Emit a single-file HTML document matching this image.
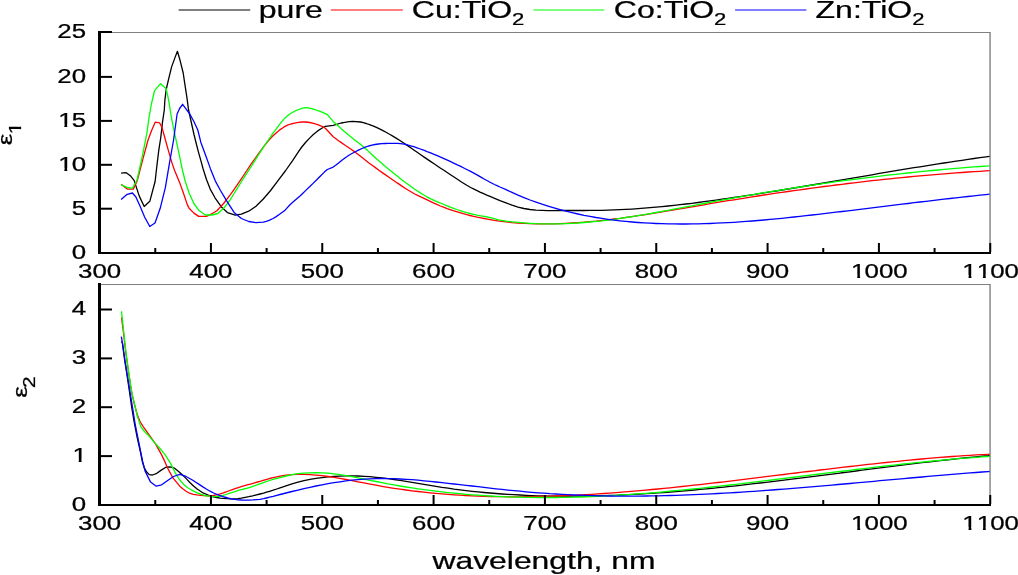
<!DOCTYPE html>
<html><head><meta charset="utf-8"><title>Dielectric function</title>
<style>html,body{margin:0;padding:0;background:#fff;overflow:hidden}svg{display:block}</style>
</head><body>
<svg width="1018" height="575" viewBox="0 0 1018 575">
<rect width="1018" height="575" fill="#fff"/>
<g font-family="Liberation Sans, Arial, sans-serif" fill="#000">
<line x1="100" y1="32.5" x2="990" y2="32.5" stroke="#808080" stroke-width="1"/>
<rect x="989.4" y="32.0" width="1.3" height="221.0" fill="#7a7a7a"/>
<line x1="100" y1="284.5" x2="990" y2="284.5" stroke="#808080" stroke-width="1"/>
<rect x="989.4" y="284.0" width="1.3" height="221.0" fill="#7a7a7a"/>
<polyline points="121.1,173.2 126.2,172.7 130.7,176.1 134.1,180.4 139.3,196.1 144.2,206.5 149.8,201.3 155.1,181.5 157.0,164.8 158.8,150.2 160.7,138.0 162.5,122.2 164.3,110.0 164.9,99.8 166.2,89.5 168.6,79.1 171.6,66.9 174.7,58.4 177.4,51.3 180.2,60.8 183.2,73.0 185.0,85.2 186.9,97.4 188.5,109.5 191.1,121.5 194.0,134.5 196.6,145.0 198.4,151.9 200.8,160.4 203.0,168.5 206.4,179.3 210.2,189.1 215.0,197.8 221.7,207.3 227.4,212.6 235.3,215.1 241.4,214.2 248.7,211.2 256.0,206.3 263.3,199.0 270.6,190.5 278.0,180.7 285.3,171.0 292.6,160.6 295.4,156.3 298.5,151.6 301.8,147.0 305.5,142.5 309.6,138.1 313.6,134.2 317.7,130.9 321.8,128.2 325.4,126.3 333.2,125.4 341.1,123.0 344.9,122.3 349.1,121.7 352.9,121.4 360.7,122.0 363.3,122.7 366.2,123.5 369.5,124.6 372.9,125.8 376.4,127.3 379.5,128.8 383.0,130.6 386.5,132.5 390.0,134.5 393.2,136.4 396.1,138.1 400.3,140.7 403.7,143.0 407.9,145.9 410.7,147.8 413.9,150.0 417.2,152.3 420.7,154.7 424.1,157.1 427.5,159.4 430.8,161.6 434.1,163.8 437.3,166.0 440.6,168.2 443.9,170.3 447.2,172.5 450.5,174.7 454.0,177.0 457.4,179.3 460.7,181.5 463.9,183.5 466.8,185.3 470.6,187.5 474.0,189.2 477.1,190.7 480.0,192.1 483.6,193.7 486.8,195.1 490.0,196.4 493.5,197.9 497.0,199.3 500.0,200.6 506.0,202.9 512.0,205.1 518.0,207.1 524.0,208.5 530.0,209.5 536.0,210.1 542.0,210.4 548.0,210.6 554.0,210.6 560.0,210.5 566.0,210.5 572.0,210.5 578.0,210.5 584.0,210.5 590.0,210.4 596.0,210.4 602.0,210.3 608.0,210.1 614.0,209.9 620.0,209.7 626.0,209.4 632.0,209.1 638.0,208.7 644.0,208.2 650.0,207.7 656.0,207.2 662.0,206.6 668.0,206.0 674.0,205.4 680.0,204.7 686.0,204.0 692.0,203.3 698.0,202.5 704.0,201.7 710.0,200.9 716.0,200.1 722.0,199.2 728.0,198.4 734.0,197.5 740.0,196.6 746.0,195.7 752.0,194.8 758.0,193.8 764.0,192.9 770.0,191.9 776.0,191.0 782.0,190.0 788.0,189.0 794.0,188.0 800.0,187.0 806.0,186.0 812.0,185.0 818.0,184.0 824.0,183.0 830.0,181.9 836.0,180.9 842.0,179.9 848.0,178.9 854.0,177.8 860.0,176.8 866.0,175.8 872.0,174.8 878.0,173.7 884.0,172.7 890.0,171.7 896.0,170.7 902.0,169.7 908.0,168.7 914.0,167.7 920.0,166.8 926.0,165.8 932.0,164.9 938.0,163.9 944.0,163.0 950.0,162.1 956.0,161.2 962.0,160.3 968.0,159.4 974.0,158.5 980.0,157.7 986.0,156.9 989.6,156.4" fill="none" stroke="#000" stroke-width="1.3" stroke-linejoin="round"/>
<polyline points="121.1,184.3 127.2,189.1 133.3,189.1 137.2,180.8 143.0,158.7 147.9,140.5 151.5,130.7 155.2,122.2 159.5,122.8 161.9,127.1 164.9,138.0 168.6,151.4 172.2,163.6 174.6,170.5 179.6,182.4 183.4,193.0 187.2,204.4 189.1,208.3 193.9,213.1 198.7,216.4 206.4,216.4 211.1,214.2 216.9,210.7 223.6,203.5 230.0,195.2 233.1,190.8 236.7,185.7 240.3,180.4 243.9,175.0 247.5,169.5 250.9,164.4 255.4,158.0 259.6,152.2 263.9,146.3 268.3,140.9 272.5,136.3 277.0,132.2 280.2,129.6 283.7,127.2 287.5,125.2 290.9,124.0 294.6,123.1 298.3,122.4 301.8,122.0 305.9,122.0 309.8,122.5 313.6,123.4 317.7,124.6 321.8,126.3 325.4,128.3 333.2,136.8 335.6,138.6 338.5,140.7 341.7,142.9 345.1,145.2 348.5,147.5 351.8,149.8 354.8,151.9 358.6,154.7 362.1,157.5 365.5,160.2 368.9,162.9 372.5,165.6 375.7,167.9 378.9,170.3 382.2,172.6 385.6,174.9 388.9,177.2 392.2,179.5 395.4,181.7 398.7,183.9 401.9,186.1 405.1,188.2 408.4,190.3 411.8,192.3 414.8,194.0 418.1,195.6 421.3,197.2 424.6,198.7 427.7,200.2 430.7,201.6 433.4,202.8 437.3,204.6 440.4,206.0 443.5,207.2 447.2,208.6 450.1,209.6 453.2,210.7 456.4,211.7 459.8,212.7 463.3,213.7 466.8,214.7 470.0,215.5 473.6,216.3 477.2,217.1 480.8,217.8 484.2,218.5 487.3,219.1 490.0,219.6 494.5,220.4 497.5,220.8 500.0,221.1 506.0,221.9 512.0,222.6 518.0,223.1 524.0,223.4 530.0,223.6 536.0,223.8 542.0,223.9 548.0,223.9 554.0,223.8 560.0,223.6 566.0,223.3 572.0,223.0 578.0,222.6 584.0,222.2 590.0,221.6 596.0,221.1 602.0,220.4 608.0,219.8 614.0,219.0 620.0,218.3 626.0,217.4 632.0,216.6 638.0,215.7 644.0,214.8 650.0,213.9 656.0,212.9 662.0,211.9 668.0,210.9 674.0,209.9 680.0,208.9 686.0,207.8 692.0,206.8 698.0,205.8 704.0,204.8 710.0,203.7 716.0,202.7 722.0,201.7 728.0,200.7 734.0,199.8 740.0,198.8 746.0,197.8 752.0,196.9 758.0,196.0 764.0,195.0 770.0,194.1 776.0,193.2 782.0,192.4 788.0,191.5 794.0,190.6 800.0,189.8 806.0,189.0 812.0,188.1 818.0,187.3 824.0,186.5 830.0,185.8 836.0,185.0 842.0,184.3 848.0,183.5 854.0,182.8 860.0,182.1 866.0,181.4 872.0,180.7 878.0,180.1 884.0,179.4 890.0,178.8 896.0,178.2 902.0,177.6 908.0,177.0 914.0,176.4 920.0,175.9 926.0,175.3 932.0,174.8 938.0,174.3 944.0,173.8 950.0,173.4 956.0,172.9 962.0,172.5 968.0,172.0 974.0,171.6 980.0,171.3 986.0,170.9 989.6,170.7" fill="none" stroke="#f00" stroke-width="1.3" stroke-linejoin="round"/>
<polyline points="121.1,184.8 127.2,187.4 132.4,188.3 137.0,180.0 141.8,158.7 146.7,134.4 149.1,117.0 151.5,103.5 154.6,90.7 160.6,83.7 166.2,88.8 168.6,99.8 171.0,115.0 173.5,128.3 178.3,150.2 182.4,170.0 185.3,181.5 189.1,193.0 193.9,203.5 198.7,210.2 205.4,215.0 212.1,215.0 217.8,213.5 223.6,208.3 230.0,200.1 234.1,193.5 237.0,188.8 240.6,183.0 243.8,177.8 250.9,167.0 255.2,160.2 259.6,153.1 263.9,146.4 268.3,140.0 272.5,133.9 277.0,127.9 280.2,123.7 283.7,119.4 287.5,115.7 290.9,113.3 294.7,111.2 298.5,109.5 301.8,108.3 305.2,107.7 308.1,107.9 311.6,108.7 314.5,109.5 317.9,110.6 321.4,111.9 324.7,113.3 327.3,114.6 333.2,121.4 335.7,123.7 338.8,126.5 342.1,129.4 345.6,132.4 348.9,135.2 352.0,137.7 355.0,140.2 358.1,142.6 361.3,145.1 364.7,148.0 367.7,150.6 370.8,153.5 374.0,156.4 377.3,159.5 380.8,162.5 384.3,165.6 387.5,168.3 390.9,171.0 394.3,173.8 397.9,176.6 401.3,179.4 404.7,181.9 407.9,184.3 411.4,186.8 414.7,189.2 417.9,191.3 421.1,193.4 424.3,195.3 427.5,197.1 430.8,198.8 434.1,200.4 437.3,201.8 440.6,203.2 443.9,204.5 447.2,205.8 450.4,207.1 453.6,208.3 456.8,209.5 460.0,210.6 463.3,211.7 466.8,212.7 470.0,213.5 473.6,214.3 477.2,215.1 480.8,215.8 484.2,216.4 487.3,217.0 490.0,217.6 494.5,218.7 497.5,219.6 500.0,220.2 506.0,221.2 512.0,221.8 518.0,222.4 524.0,222.9 530.0,223.3 536.0,223.7 542.0,223.8 548.0,223.9 554.0,223.9 560.0,223.8 566.0,223.6 572.0,223.3 578.0,223.0 584.0,222.5 590.0,222.0 596.0,221.4 602.0,220.8 608.0,220.0 614.0,219.3 620.0,218.4 626.0,217.5 632.0,216.6 638.0,215.6 644.0,214.6 650.0,213.6 656.0,212.5 662.0,211.4 668.0,210.3 674.0,209.2 680.0,208.1 686.0,206.9 692.0,205.8 698.0,204.6 704.0,203.5 710.0,202.3 716.0,201.2 722.0,200.1 728.0,199.0 734.0,197.9 740.0,196.9 746.0,195.8 752.0,194.8 758.0,193.7 764.0,192.7 770.0,191.7 776.0,190.8 782.0,189.8 788.0,188.8 794.0,187.9 800.0,187.0 806.0,186.1 812.0,185.2 818.0,184.3 824.0,183.4 830.0,182.6 836.0,181.7 842.0,180.9 848.0,180.1 854.0,179.3 860.0,178.6 866.0,177.8 872.0,177.1 878.0,176.3 884.0,175.6 890.0,174.9 896.0,174.3 902.0,173.6 908.0,173.0 914.0,172.3 920.0,171.7 926.0,171.1 932.0,170.5 938.0,170.0 944.0,169.4 950.0,168.9 956.0,168.4 962.0,167.9 968.0,167.4 974.0,166.9 980.0,166.5 986.0,166.1 989.6,165.8" fill="none" stroke="#0f0" stroke-width="1.3" stroke-linejoin="round"/>
<polyline points="121.1,199.6 127.2,194.3 132.4,193.0 135.9,197.0 140.2,206.5 144.6,217.0 149.8,226.5 155.0,223.0 160.2,208.3 165.4,187.4 169.8,161.2 173.5,140.5 177.1,114.0 179.6,108.5 182.6,104.3 185.6,108.3 189.8,114.0 194.0,121.8 197.8,130.0 200.8,142.2 205.7,155.5 210.5,168.9 215.4,181.1 220.5,190.5 226.5,200.6 234.1,212.4 241.4,218.5 248.7,221.5 256.0,222.7 263.3,222.1 266.3,221.3 269.6,220.2 273.1,218.5 276.2,216.6 279.5,214.3 282.7,211.9 285.3,209.9 290.0,204.8 293.0,202.1 296.5,199.0 300.0,195.9 302.9,193.2 305.8,190.4 309.6,186.8 312.8,183.6 316.7,179.8 320.7,175.7 324.4,172.1 327.3,169.5 333.2,167.1 335.6,165.3 338.6,162.9 341.9,160.3 345.3,157.7 348.9,155.3 352.0,153.5 355.2,151.8 358.5,150.1 361.9,148.5 365.3,147.1 368.6,146.0 371.9,145.1 375.1,144.5 378.4,144.0 381.7,143.7 384.9,143.5 388.2,143.4 391.4,143.3 394.4,143.3 397.4,143.4 400.6,143.6 404.1,144.2 407.9,145.0 410.7,145.8 413.8,146.7 417.0,147.8 420.3,149.0 423.7,150.2 427.1,151.6 430.6,152.9 434.0,154.3 437.3,155.7 440.6,157.1 444.0,158.6 447.4,160.1 450.7,161.7 454.1,163.3 457.4,164.9 460.7,166.4 463.8,168.0 466.8,169.5 470.6,171.4 474.3,173.4 477.9,175.4 481.3,177.4 484.5,179.2 487.4,180.8 490.0,182.2 494.5,184.5 497.5,185.8 500.0,187.0 506.0,189.7 512.0,192.4 518.0,195.2 524.0,197.6 530.0,200.0 536.0,202.1 542.0,204.2 548.0,206.1 554.0,207.9 560.0,209.6 566.0,211.2 572.0,212.6 578.0,214.0 584.0,215.3 590.0,216.4 596.0,217.5 602.0,218.4 608.0,219.3 614.0,220.1 620.0,220.8 626.0,221.4 632.0,222.0 638.0,222.5 644.0,222.9 650.0,223.2 656.0,223.5 662.0,223.7 668.0,223.8 674.0,223.9 680.0,224.0 686.0,224.0 692.0,223.9 698.0,223.8 704.0,223.7 710.0,223.5 716.0,223.2 722.0,222.9 728.0,222.6 734.0,222.3 740.0,221.9 746.0,221.4 752.0,221.0 758.0,220.5 764.0,220.0 770.0,219.4 776.0,218.9 782.0,218.3 788.0,217.6 794.0,217.0 800.0,216.4 806.0,215.7 812.0,215.0 818.0,214.3 824.0,213.6 830.0,212.9 836.0,212.2 842.0,211.5 848.0,210.8 854.0,210.1 860.0,209.3 866.0,208.6 872.0,207.9 878.0,207.1 884.0,206.4 890.0,205.7 896.0,204.9 902.0,204.2 908.0,203.5 914.0,202.7 920.0,202.0 926.0,201.3 932.0,200.6 938.0,199.9 944.0,199.2 950.0,198.5 956.0,197.8 962.0,197.2 968.0,196.5 974.0,195.8 980.0,195.2 986.0,194.6 989.6,194.2" fill="none" stroke="#00f" stroke-width="1.3" stroke-linejoin="round"/>
<polyline points="121.3,341.5 122.3,342.5 124.7,360.4 127.2,376.2 129.6,392.5 131.7,407.2 134.1,421.7 137.2,437.6 140.2,450.9 142.6,462.5 144.2,467.5 146.5,471.8 149.2,474.6 152.5,475.0 156.2,473.7 160.5,470.6 165.9,467.2 170.0,466.8 174.3,468.1 178.0,471.0 182.6,475.1 186.2,478.6 190.1,482.7 193.8,486.2 197.2,489.0 200.5,491.3 203.5,493.2 210.5,496.0 213.4,496.8 216.6,497.5 220.2,498.1 223.4,498.4 227.1,498.7 230.7,498.8 234.1,498.8 237.9,498.6 241.3,498.1 245.2,497.4 248.8,496.7 252.7,495.8 256.6,494.8 260.0,494.0 263.6,493.1 266.5,492.2 269.6,491.3 273.2,490.2 276.8,489.0 280.0,487.9 286.0,485.8 292.0,483.8 298.0,482.1 304.0,480.7 310.0,479.4 316.0,478.4 322.0,477.6 328.0,476.9 334.0,476.4 340.0,476.1 346.0,475.9 352.0,475.9 358.0,476.0 364.0,476.3 370.0,476.7 376.0,477.3 382.0,477.9 388.0,478.7 394.0,479.5 400.0,480.4 406.0,481.4 412.0,482.4 418.0,483.4 424.0,484.4 430.0,485.4 436.0,486.4 442.0,487.4 448.0,488.2 454.0,489.1 460.0,489.8 466.0,490.6 472.0,491.3 478.0,491.9 484.0,492.5 490.0,493.0 496.0,493.5 502.0,494.0 508.0,494.4 514.0,494.7 520.0,495.0 526.0,495.3 532.0,495.6 538.0,495.8 544.0,495.9 550.0,496.1 556.0,496.2 562.0,496.2 568.0,496.2 574.0,496.2 580.0,496.2 586.0,496.1 592.0,496.0 598.0,495.9 604.0,495.7 610.0,495.5 616.0,495.3 622.0,495.0 628.0,494.7 634.0,494.4 640.0,494.1 646.0,493.7 652.0,493.3 658.0,492.9 664.0,492.5 670.0,492.0 676.0,491.6 682.0,491.1 688.0,490.5 694.0,490.0 700.0,489.4 706.0,488.9 712.0,488.3 718.0,487.7 724.0,487.1 730.0,486.4 736.0,485.8 742.0,485.1 748.0,484.4 754.0,483.7 760.0,483.0 766.0,482.3 772.0,481.6 778.0,480.9 784.0,480.2 790.0,479.4 796.0,478.7 802.0,477.9 808.0,477.2 814.0,476.4 820.0,475.6 826.0,474.8 832.0,474.1 838.0,473.3 844.0,472.5 850.0,471.8 856.0,471.0 862.0,470.2 868.0,469.4 874.0,468.7 880.0,467.9 886.0,467.1 892.0,466.4 898.0,465.6 904.0,464.9 910.0,464.2 916.0,463.4 922.0,462.7 928.0,462.0 934.0,461.3 940.0,460.6 946.0,460.0 952.0,459.3 958.0,458.7 964.0,458.0 970.0,457.4 976.0,456.8 982.0,456.2 988.0,455.7 989.6,455.5" fill="none" stroke="#000" stroke-width="1.3" stroke-linejoin="round"/>
<polyline points="121.5,317.4 123.3,331.0 125.7,352.0 128.2,370.0 130.6,386.0 132.2,395.0 134.6,405.0 137.2,414.5 140.0,421.5 143.2,426.6 149.3,435.1 155.4,443.6 161.5,454.6 165.0,461.9 167.3,467.5 172.9,477.9 179.8,486.2 182.8,488.8 186.1,491.3 189.6,493.2 193.3,494.3 197.0,494.9 200.7,495.3 204.1,495.7 207.3,495.9 210.5,495.8 213.4,495.5 216.3,494.9 220.2,493.9 222.7,493.1 225.5,492.1 228.5,491.0 231.7,489.9 235.0,488.7 238.3,487.6 241.3,486.7 244.6,485.7 248.0,484.7 251.4,483.8 254.6,482.8 257.5,482.0 260.0,481.3 264.1,480.1 266.8,479.3 269.6,478.5 273.2,477.6 276.8,476.8 280.0,476.1 286.0,475.1 292.0,474.6 298.0,474.4 304.0,474.4 310.0,474.7 316.0,475.1 322.0,475.7 328.0,476.5 334.0,477.4 340.0,478.4 346.0,479.5 352.0,480.6 358.0,481.8 364.0,482.9 370.0,484.1 376.0,485.2 382.0,486.3 388.0,487.3 394.0,488.3 400.0,489.2 406.0,490.0 412.0,490.8 418.0,491.5 424.0,492.2 430.0,492.8 436.0,493.4 442.0,493.9 448.0,494.4 454.0,494.8 460.0,495.2 466.0,495.5 472.0,495.8 478.0,496.1 484.0,496.3 490.0,496.5 496.0,496.6 502.0,496.7 508.0,496.8 514.0,496.8 520.0,496.8 526.0,496.7 532.0,496.7 538.0,496.5 544.0,496.4 550.0,496.2 556.0,496.0 562.0,495.8 568.0,495.6 574.0,495.3 580.0,495.0 586.0,494.6 592.0,494.3 598.0,493.9 604.0,493.5 610.0,493.1 616.0,492.6 622.0,492.2 628.0,491.7 634.0,491.2 640.0,490.6 646.0,490.1 652.0,489.5 658.0,489.0 664.0,488.4 670.0,487.8 676.0,487.2 682.0,486.5 688.0,485.9 694.0,485.2 700.0,484.6 706.0,483.9 712.0,483.2 718.0,482.5 724.0,481.8 730.0,481.1 736.0,480.4 742.0,479.6 748.0,478.9 754.0,478.2 760.0,477.4 766.0,476.7 772.0,475.9 778.0,475.2 784.0,474.5 790.0,473.7 796.0,473.0 802.0,472.2 808.0,471.5 814.0,470.8 820.0,470.0 826.0,469.3 832.0,468.6 838.0,467.9 844.0,467.2 850.0,466.5 856.0,465.8 862.0,465.1 868.0,464.4 874.0,463.8 880.0,463.1 886.0,462.5 892.0,461.9 898.0,461.3 904.0,460.7 910.0,460.1 916.0,459.5 922.0,459.0 928.0,458.4 934.0,457.9 940.0,457.4 946.0,457.0 952.0,456.5 958.0,456.1 964.0,455.7 970.0,455.3 976.0,454.9 982.0,454.6 988.0,454.3 989.6,454.2" fill="none" stroke="#f00" stroke-width="1.3" stroke-linejoin="round"/>
<polyline points="121.5,311.3 123.5,330.0 125.9,351.9 128.4,370.1 130.8,385.9 132.3,395.0 134.7,404.7 137.2,415.7 140.8,426.6 144.5,431.5 149.3,436.3 155.4,443.6 160.0,448.5 165.0,454.6 170.1,462.6 175.7,473.7 179.5,479.5 184.0,484.8 187.4,487.5 191.2,489.8 195.1,491.8 198.1,493.1 201.3,494.3 204.5,495.3 207.7,496.0 210.7,496.4 213.6,496.6 216.7,496.5 220.2,496.0 223.0,495.4 226.1,494.5 229.3,493.4 232.5,492.3 235.6,491.3 238.3,490.4 242.4,489.3 245.8,488.5 250.0,487.3 252.9,486.3 256.3,485.2 259.9,483.9 263.5,482.6 266.8,481.4 269.6,480.5 273.9,479.2 277.2,478.4 280.0,477.7 286.0,476.0 292.0,474.7 298.0,473.7 304.0,473.1 310.0,472.8 316.0,472.6 322.0,472.8 328.0,473.2 334.0,473.8 340.0,474.6 346.0,475.6 352.0,476.7 358.0,477.8 364.0,479.1 370.0,480.3 376.0,481.5 382.0,482.7 388.0,483.9 394.0,484.9 400.0,486.0 406.0,487.0 412.0,487.9 418.0,488.8 424.0,489.6 430.0,490.4 436.0,491.2 442.0,491.9 448.0,492.6 454.0,493.2 460.0,493.7 466.0,494.3 472.0,494.8 478.0,495.2 484.0,495.6 490.0,496.0 496.0,496.3 502.0,496.6 508.0,496.8 514.0,497.1 520.0,497.2 526.0,497.4 532.0,497.4 538.0,497.5 544.0,497.5 550.0,497.5 556.0,497.5 562.0,497.4 568.0,497.3 574.0,497.1 580.0,497.0 586.0,496.8 592.0,496.5 598.0,496.3 604.0,496.0 610.0,495.7 616.0,495.3 622.0,495.0 628.0,494.6 634.0,494.2 640.0,493.7 646.0,493.3 652.0,492.8 658.0,492.3 664.0,491.8 670.0,491.2 676.0,490.7 682.0,490.1 688.0,489.5 694.0,488.9 700.0,488.3 706.0,487.7 712.0,487.0 718.0,486.4 724.0,485.7 730.0,485.0 736.0,484.3 742.0,483.6 748.0,482.9 754.0,482.2 760.0,481.4 766.0,480.7 772.0,480.0 778.0,479.2 784.0,478.5 790.0,477.7 796.0,477.0 802.0,476.2 808.0,475.5 814.0,474.7 820.0,474.0 826.0,473.2 832.0,472.5 838.0,471.7 844.0,471.0 850.0,470.3 856.0,469.5 862.0,468.8 868.0,468.1 874.0,467.4 880.0,466.7 886.0,466.0 892.0,465.3 898.0,464.6 904.0,464.0 910.0,463.3 916.0,462.7 922.0,462.1 928.0,461.5 934.0,460.9 940.0,460.3 946.0,459.8 952.0,459.2 958.0,458.7 964.0,458.2 970.0,457.8 976.0,457.3 982.0,456.9 988.0,456.5 989.6,456.4" fill="none" stroke="#0f0" stroke-width="1.3" stroke-linejoin="round"/>
<polyline points="121.3,336.7 122.5,343.0 124.9,360.0 127.5,376.5 130.5,395.0 132.6,408.0 135.3,425.0 139.5,445.9 142.5,461.0 145.0,470.9 150.6,482.1 156.2,486.2 161.7,484.8 167.3,480.7 173.5,476.5 179.8,474.4 185.5,476.2 192.4,480.0 195.4,482.0 199.1,484.4 202.9,486.9 206.3,489.0 210.1,491.2 213.6,493.0 217.4,494.6 220.7,495.8 224.2,497.0 227.8,498.0 231.3,498.8 234.8,499.4 238.2,499.8 241.7,500.0 245.2,500.1 249.0,500.1 252.9,499.9 256.6,499.6 260.0,499.3 263.6,498.7 266.5,498.0 269.6,497.2 273.2,496.3 276.8,495.3 280.0,494.5 286.0,493.0 292.0,491.5 298.0,490.1 304.0,488.6 310.0,487.3 316.0,486.0 322.0,484.8 328.0,483.7 334.0,482.7 340.0,481.8 346.0,480.9 352.0,480.2 358.0,479.6 364.0,479.1 370.0,478.8 376.0,478.6 382.0,478.5 388.0,478.6 394.0,478.7 400.0,479.0 406.0,479.3 412.0,479.7 418.0,480.2 424.0,480.8 430.0,481.4 436.0,482.0 442.0,482.6 448.0,483.3 454.0,484.0 460.0,484.6 466.0,485.3 472.0,486.0 478.0,486.7 484.0,487.4 490.0,488.1 496.0,488.8 502.0,489.4 508.0,490.1 514.0,490.7 520.0,491.2 526.0,491.8 532.0,492.3 538.0,492.8 544.0,493.2 550.0,493.7 556.0,494.0 562.0,494.4 568.0,494.7 574.0,495.0 580.0,495.2 586.0,495.4 592.0,495.6 598.0,495.8 604.0,495.9 610.0,496.0 616.0,496.1 622.0,496.1 628.0,496.1 634.0,496.1 640.0,496.1 646.0,496.0 652.0,495.9 658.0,495.8 664.0,495.7 670.0,495.5 676.0,495.3 682.0,495.1 688.0,494.9 694.0,494.7 700.0,494.4 706.0,494.1 712.0,493.8 718.0,493.5 724.0,493.2 730.0,492.8 736.0,492.5 742.0,492.1 748.0,491.7 754.0,491.3 760.0,490.9 766.0,490.4 772.0,490.0 778.0,489.5 784.0,489.1 790.0,488.6 796.0,488.1 802.0,487.6 808.0,487.1 814.0,486.6 820.0,486.1 826.0,485.6 832.0,485.1 838.0,484.5 844.0,484.0 850.0,483.5 856.0,482.9 862.0,482.4 868.0,481.8 874.0,481.3 880.0,480.7 886.0,480.2 892.0,479.7 898.0,479.1 904.0,478.6 910.0,478.0 916.0,477.5 922.0,477.0 928.0,476.4 934.0,475.9 940.0,475.4 946.0,474.9 952.0,474.4 958.0,473.9 964.0,473.4 970.0,472.9 976.0,472.5 982.0,472.0 988.0,471.6 989.6,471.5" fill="none" stroke="#00f" stroke-width="1.3" stroke-linejoin="round"/>
<rect x="98" y="31" width="3" height="223" fill="#000"/>
<rect x="98" y="283" width="3" height="223" fill="#000"/>
<rect x="98" y="252" width="893" height="2" fill="#000"/>
<rect x="98" y="504" width="893" height="2" fill="#000"/>
<rect x="154.26" y="248" width="2" height="4" fill="#000"/>
<rect x="209.93" y="243" width="2" height="9" fill="#000"/>
<rect x="265.60" y="248" width="2" height="4" fill="#000"/>
<rect x="321.26" y="243" width="2" height="9" fill="#000"/>
<rect x="376.92" y="248" width="2" height="4" fill="#000"/>
<rect x="432.59" y="243" width="2" height="9" fill="#000"/>
<rect x="488.25" y="248" width="2" height="4" fill="#000"/>
<rect x="543.92" y="243" width="2" height="9" fill="#000"/>
<rect x="599.58" y="248" width="2" height="4" fill="#000"/>
<rect x="655.25" y="243" width="2" height="9" fill="#000"/>
<rect x="710.91" y="248" width="2" height="4" fill="#000"/>
<rect x="766.58" y="243" width="2" height="9" fill="#000"/>
<rect x="822.25" y="248" width="2" height="4" fill="#000"/>
<rect x="877.91" y="243" width="2" height="9" fill="#000"/>
<rect x="933.58" y="248" width="2" height="4" fill="#000"/>
<rect x="989.24" y="243" width="2" height="9" fill="#000"/>
<rect x="154.26" y="500" width="2" height="4" fill="#000"/>
<rect x="209.93" y="495" width="2" height="9" fill="#000"/>
<rect x="265.60" y="500" width="2" height="4" fill="#000"/>
<rect x="321.26" y="495" width="2" height="9" fill="#000"/>
<rect x="376.92" y="500" width="2" height="4" fill="#000"/>
<rect x="432.59" y="495" width="2" height="9" fill="#000"/>
<rect x="488.25" y="500" width="2" height="4" fill="#000"/>
<rect x="543.92" y="495" width="2" height="9" fill="#000"/>
<rect x="599.58" y="500" width="2" height="4" fill="#000"/>
<rect x="655.25" y="495" width="2" height="9" fill="#000"/>
<rect x="710.91" y="500" width="2" height="4" fill="#000"/>
<rect x="766.58" y="495" width="2" height="9" fill="#000"/>
<rect x="822.25" y="500" width="2" height="4" fill="#000"/>
<rect x="877.91" y="495" width="2" height="9" fill="#000"/>
<rect x="933.58" y="500" width="2" height="4" fill="#000"/>
<rect x="989.24" y="495" width="2" height="9" fill="#000"/>
<rect x="98" y="31.00" width="14" height="2" fill="#000"/>
<rect x="98" y="75.90" width="14" height="2" fill="#000"/>
<rect x="98" y="119.90" width="14" height="2" fill="#000"/>
<rect x="98" y="163.80" width="14" height="2" fill="#000"/>
<rect x="98" y="207.70" width="14" height="2" fill="#000"/>
<rect x="98" y="308.50" width="14" height="2" fill="#000"/>
<rect x="98" y="357.40" width="14" height="2" fill="#000"/>
<rect x="98" y="406.20" width="14" height="2" fill="#000"/>
<rect x="98" y="455.10" width="14" height="2" fill="#000"/>
<g stroke="#000" stroke-width="0.25">
<text transform="translate(99.6 277.5) scale(1.34 1)" x="-16.10 -5.37 5.37" font-size="19.3">300</text>
<text transform="translate(99.6 529.7) scale(1.34 1)" x="-16.10 -5.37 5.37" font-size="19.3">300</text>
<text transform="translate(210.9 277.5) scale(1.34 1)" x="-16.10 -5.37 5.37" font-size="19.3">400</text>
<text transform="translate(210.9 529.7) scale(1.34 1)" x="-16.10 -5.37 5.37" font-size="19.3">400</text>
<text transform="translate(322.3 277.5) scale(1.34 1)" x="-16.10 -5.37 5.37" font-size="19.3">500</text>
<text transform="translate(322.3 529.7) scale(1.34 1)" x="-16.10 -5.37 5.37" font-size="19.3">500</text>
<text transform="translate(433.6 277.5) scale(1.34 1)" x="-16.10 -5.37 5.37" font-size="19.3">600</text>
<text transform="translate(433.6 529.7) scale(1.34 1)" x="-16.10 -5.37 5.37" font-size="19.3">600</text>
<text transform="translate(544.9 277.5) scale(1.34 1)" x="-16.10 -5.37 5.37" font-size="19.3">700</text>
<text transform="translate(544.9 529.7) scale(1.34 1)" x="-16.10 -5.37 5.37" font-size="19.3">700</text>
<text transform="translate(656.2 277.5) scale(1.34 1)" x="-16.10 -5.37 5.37" font-size="19.3">800</text>
<text transform="translate(656.2 529.7) scale(1.34 1)" x="-16.10 -5.37 5.37" font-size="19.3">800</text>
<text transform="translate(767.6 277.5) scale(1.34 1)" x="-16.10 -5.37 5.37" font-size="19.3">900</text>
<text transform="translate(767.6 529.7) scale(1.34 1)" x="-16.10 -5.37 5.37" font-size="19.3">900</text>
<text transform="translate(878.9 277.5) scale(1.34 1)" x="-20.80 -10.73 0.00 10.73" font-size="19.3">1000</text><g transform="translate(878.9 277.5) scale(1.34 1)" fill="#fff" stroke="none"><rect x="-20.23" y="-2.57" width="4.06" height="4.57"/><rect x="-14.01" y="-2.57" width="4.13" height="4.57"/></g>
<text transform="translate(878.9 529.7) scale(1.34 1)" x="-20.80 -10.73 0.00 10.73" font-size="19.3">1000</text><g transform="translate(878.9 529.7) scale(1.34 1)" fill="#fff" stroke="none"><rect x="-20.23" y="-2.57" width="4.06" height="4.57"/><rect x="-14.01" y="-2.57" width="4.13" height="4.57"/></g>
<text transform="translate(990.2 277.5) scale(1.34 1)" x="-20.80 -10.06 0.00 10.73" font-size="19.3">1100</text><g transform="translate(990.2 277.5) scale(1.34 1)" fill="#fff" stroke="none"><rect x="-20.23" y="-2.57" width="4.06" height="4.57"/><rect x="-14.01" y="-2.57" width="4.13" height="4.57"/><rect x="-9.49" y="-2.57" width="4.06" height="4.57"/><rect x="-3.28" y="-2.57" width="4.13" height="4.57"/></g>
<text transform="translate(990.2 529.7) scale(1.34 1)" x="-20.80 -10.06 0.00 10.73" font-size="19.3">1100</text><g transform="translate(990.2 529.7) scale(1.34 1)" fill="#fff" stroke="none"><rect x="-20.23" y="-2.57" width="4.06" height="4.57"/><rect x="-14.01" y="-2.57" width="4.13" height="4.57"/><rect x="-9.49" y="-2.57" width="4.06" height="4.57"/><rect x="-3.28" y="-2.57" width="4.13" height="4.57"/></g>
<text transform="translate(86.0 37.9) scale(1.34 1)" x="-21.47 -10.73" font-size="19.3">25</text>
<text transform="translate(86.0 82.8) scale(1.34 1)" x="-21.47 -10.73" font-size="19.3">20</text>
<text transform="translate(86.0 126.8) scale(1.34 1)" x="-20.80 -10.73" font-size="19.3">15</text><g transform="translate(86.0 126.8) scale(1.34 1)" fill="#fff" stroke="none"><rect x="-20.23" y="-2.57" width="4.06" height="4.57"/><rect x="-14.01" y="-2.57" width="4.13" height="4.57"/></g>
<text transform="translate(86.0 170.7) scale(1.34 1)" x="-20.80 -10.73" font-size="19.3">10</text><g transform="translate(86.0 170.7) scale(1.34 1)" fill="#fff" stroke="none"><rect x="-20.23" y="-2.57" width="4.06" height="4.57"/><rect x="-14.01" y="-2.57" width="4.13" height="4.57"/></g>
<text transform="translate(86.0 214.6) scale(1.34 1)" x="-10.73" font-size="19.3">5</text>
<text transform="translate(86.0 258.9) scale(1.34 1)" x="-10.73" font-size="19.3">0</text>
<text transform="translate(86.0 315.4) scale(1.34 1)" x="-10.73" font-size="19.3">4</text>
<text transform="translate(86.0 364.3) scale(1.34 1)" x="-10.73" font-size="19.3">3</text>
<text transform="translate(86.0 413.1) scale(1.34 1)" x="-10.73" font-size="19.3">2</text>
<text transform="translate(86.0 462.0) scale(1.34 1)" x="-10.06" font-size="19.3">1</text><g transform="translate(86.0 462.0) scale(1.34 1)" fill="#fff" stroke="none"><rect x="-9.49" y="-2.57" width="4.06" height="4.57"/><rect x="-3.28" y="-2.57" width="4.13" height="4.57"/></g>
<text transform="translate(86.0 510.9) scale(1.34 1)" x="-10.73" font-size="19.3">0</text>
<text transform="translate(544 569) scale(1.328 1)" text-anchor="middle" font-size="24">wavelength, nm</text>
<text transform="translate(12.3 145.3) rotate(-90) scale(1.3 1)" font-size="20">ε<tspan x="8.54" y="8.30" font-size="16.4">1</tspan></text><g transform="translate(12.3 145.3) rotate(-90) scale(1.3 1) translate(0 8.30)" fill="#fff" stroke="none"><rect x="8.89" y="-2.35" width="3.55" height="4.35"/><rect x="14.34" y="-2.35" width="3.65" height="4.35"/></g>
<text transform="translate(26.6 397.8) rotate(-90) scale(1.3 1)" font-size="20">ε<tspan x="7.54" y="8.60" font-size="16.0">2</tspan></text>
<rect x="178.6" y="9" width="71.6" height="2" fill="#808080" stroke="none"/>
<text transform="translate(258.8 18) scale(1.335 1)" font-size="24">pure</text>
<rect x="330.8" y="9" width="72.0" height="2" fill="#ff7f7f" stroke="none"/>
<text transform="translate(411.8 18) scale(1.335 1)" font-size="24">Cu:TiO<tspan font-size="16.5" dy="6.6">2</tspan></text>
<rect x="533.4" y="9" width="70.9" height="2" fill="#7fff7f" stroke="none"/>
<text transform="translate(613.8 18) scale(1.335 1)" font-size="24">Co:TiO<tspan font-size="16.5" dy="6.6">2</tspan></text>
<rect x="735.1" y="9" width="71.3" height="2" fill="#8080ff" stroke="none"/>
<text transform="translate(815.5 18) scale(1.335 1)" font-size="24">Zn:TiO<tspan font-size="16.5" dy="6.6">2</tspan></text>
</g>
</g></svg>
</body></html>
